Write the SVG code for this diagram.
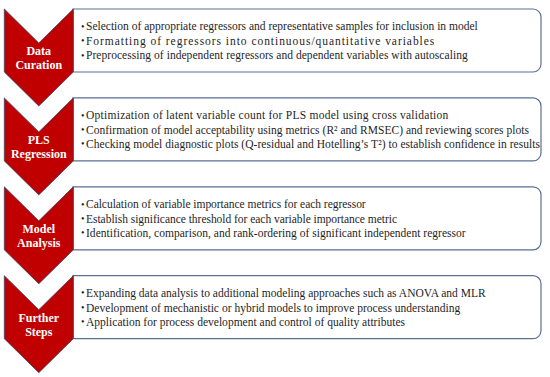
<svg xmlns="http://www.w3.org/2000/svg" width="550" height="377" viewBox="0 0 550 377">
<style>
.box{fill:#fff;stroke:#5d6f92;stroke-width:1.2}
.chev{fill:#c00000;stroke:#3b4668;stroke-width:0.8}
.lbl{font-family:"Liberation Serif",serif;font-weight:bold;font-size:12px;fill:#fff;text-anchor:middle}
.t{font-family:"Liberation Serif",serif;font-size:11.5px;fill:#1e1e1e}
.b{font-family:"Liberation Serif",serif;font-size:10px;fill:#1e1e1e;text-anchor:middle}
</style>
<rect width="550" height="377" fill="#fff"/>
<g id="connectors"></g>

<g id="step1">
<path class="box" d="M73,9 H533 A8,8 0 0 1 541,17 V64 A8,8 0 0 1 533,72 H73 Z"/>
<polygon class="chev" points="4.3,9 38.8,43 73.3,9 73.3,72 38.8,106 4.3,72"/>
<text class="lbl" x="38.8" y="55">Data</text>
<text class="lbl" x="38.8" y="68.5">Curation</text>
<text class="b" x="82.7" y="29.7">•</text>
<text class="t" x="86" y="30.2" textLength="391.7">Selection of appropriate regressors and representative samples for inclusion in model</text>
<text class="b" x="82.7" y="44.3">•</text>
<text class="t" x="86" y="44.8" textLength="348.3">Formatting of regressors into continuous/quantitative variables</text>
<text class="b" x="82.7" y="58.5">•</text>
<text class="t" x="86" y="59" textLength="381.7">Preprocessing of independent regressors and dependent variables with autoscaling</text>
</g>

<g id="step2">
<path class="box" d="M73,97.9 H533 A8,8 0 0 1 541,105.9 V152.9 A8,8 0 0 1 533,160.9 H73 Z"/>
<polygon class="chev" points="4.3,97.9 38.8,131.9 73.3,97.9 73.3,160.9 38.8,194.9 4.3,160.9"/>
<text class="lbl" x="38.8" y="143.9">PLS</text>
<text class="lbl" x="38.8" y="157.7">Regression</text>
<text class="b" x="82.7" y="118.6">•</text>
<text class="t" x="86" y="119.1" textLength="362.3">Optimization of latent variable count for PLS model using cross validation</text>
<text class="b" x="82.7" y="133.2">•</text>
<text class="t" x="86" y="133.7" textLength="443">Confirmation of model acceptability using metrics (R² and RMSEC) and reviewing scores plots</text>
<text class="b" x="82.7" y="147.4">•</text>
<text class="t" x="86" y="147.9" textLength="454">Checking model diagnostic plots (Q-residual and Hotelling’s T²) to establish confidence in results</text>
</g>

<g id="step3">
<path class="box" d="M73,186.8 H533 A8,8 0 0 1 541,194.8 V241.8 A8,8 0 0 1 533,249.8 H73 Z"/>
<polygon class="chev" points="4.3,186.8 38.8,220.8 73.3,186.8 73.3,249.8 38.8,283.8 4.3,249.8"/>
<text class="lbl" x="38.8" y="232.8">Model</text>
<text class="lbl" x="38.8" y="246.5">Analysis</text>
<text class="b" x="82.7" y="207.5">•</text>
<text class="t" x="86" y="208" textLength="279.7">Calculation of variable importance metrics for each regressor</text>
<text class="b" x="82.7" y="222.1">•</text>
<text class="t" x="86" y="222.6" textLength="311">Establish significance threshold for each variable importance metric</text>
<text class="b" x="82.7" y="236.3">•</text>
<text class="t" x="86" y="236.8" textLength="379.7">Identification, comparison, and rank-ordering of significant independent regressor</text>
</g>

<g id="step4">
<path class="box" d="M73,275.7 H533 A8,8 0 0 1 541,283.7 V330.7 A8,8 0 0 1 533,338.7 H73 Z"/>
<polygon class="chev" points="4.3,275.7 38.8,309.7 73.3,275.7 73.3,338.7 38.8,372.7 4.3,338.7"/>
<text class="lbl" x="38.8" y="321.7">Further</text>
<text class="lbl" x="38.8" y="336">Steps</text>
<text class="b" x="82.7" y="296.4">•</text>
<text class="t" x="86" y="296.9" textLength="399.7">Expanding data analysis to additional modeling approaches such as ANOVA and MLR</text>
<text class="b" x="82.7" y="311">•</text>
<text class="t" x="86" y="311.5" textLength="374.3">Development of mechanistic or hybrid models to improve process understanding</text>
<text class="b" x="82.7" y="325.2">•</text>
<text class="t" x="86" y="325.7" textLength="319">Application for process development and control of quality attributes</text>
</g>
</svg>
